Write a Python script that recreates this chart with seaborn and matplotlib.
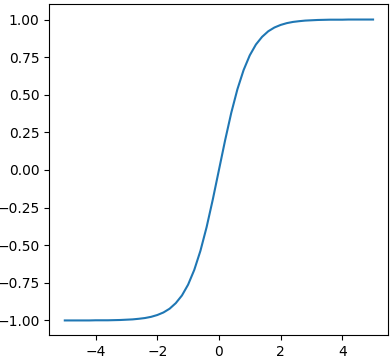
import matplotlib
matplotlib.use("Agg")
import matplotlib.pyplot as plt
import seaborn as sns
import pandas as pd

x_pos = [0.0, 0.2, 0.4, 0.6, 0.8, 1.0, 1.2, 1.4, 1.6, 1.8, 2.0, 2.2, 2.4, 2.6,
         2.8, 3.0, 3.2, 3.4, 3.6, 3.8, 4.0, 4.2, 4.4, 4.6, 4.8, 5.0]
y_pos = [0.0, 0.197, 0.380, 0.537, 0.664, 0.762, 0.834, 0.885, 0.922, 0.947,
         0.964, 0.976, 0.984, 0.989, 0.993, 0.995, 0.997, 0.998, 0.999, 0.999,
         0.999, 1.0, 1.0, 1.0, 1.0, 1.0]

x_vals = [-v for v in reversed(x_pos[1:])] + x_pos
y_vals = [-v for v in reversed(y_pos[1:])] + y_pos

df = pd.DataFrame({"x": x_vals, "y": y_vals})

fig = plt.figure(figsize=(3.92, 3.59), dpi=100)
ax = fig.add_axes([0.126, 0.0655, 0.865, 0.922])
sns.lineplot(data=df, x="x", y="y", ax=ax, color="#1f77b4", linewidth=1.5)
ax.set_xlabel("")
ax.set_ylabel("")
ax.set_yticks([-1.0, -0.75, -0.5, -0.25, 0.0, 0.25, 0.5, 0.75, 1.0])
fig.savefig("out.png", dpi=100)
